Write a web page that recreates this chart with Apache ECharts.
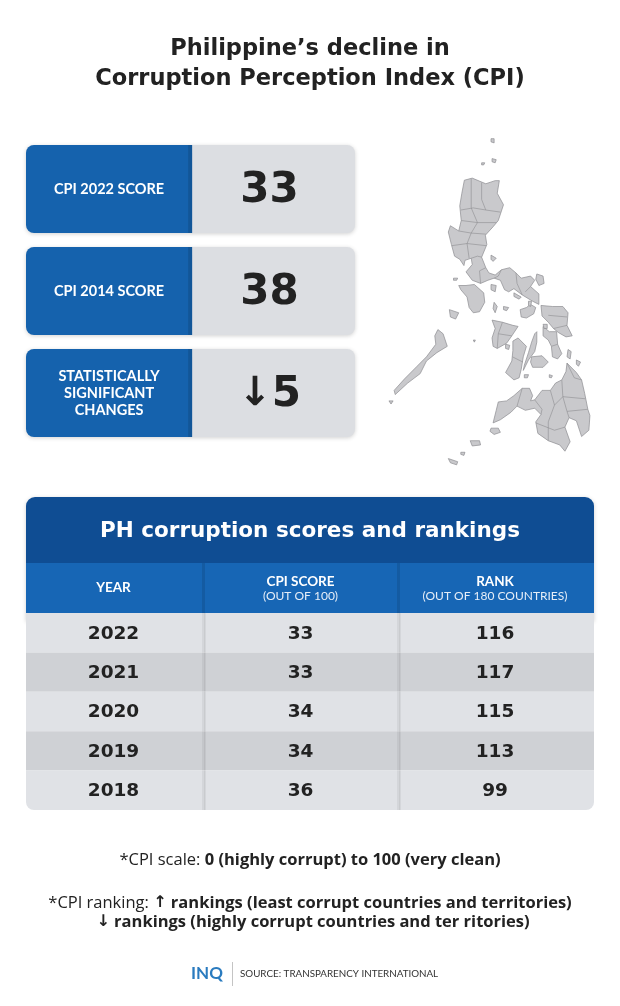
<!DOCTYPE html>
<html><head><meta charset="utf-8">
<script src="https://cdn.jsdelivr.net/npm/echarts@6/dist/echarts.min.js"></script>
<style>html,body{margin:0;padding:0;background:#fff}#c{width:620px;height:1006px}</style>
</head><body><div id="c"></div>
<script>
// ---------- data ----------
const titleLines = ["Philippine’s decline in", "Corruption Perception Index (CPI)"];
const cardLabels = ["CPI 2022 SCORE", "CPI 2014 SCORE", "STATISTICALLY\nSIGNIFICANT\nCHANGES"];
const cardValues = ["33", "38", "5"];
const cardArrows = ["", "", "↓"];
const tableTitle = "PH corruption scores and rankings";
const headerMain = ["YEAR", "CPI SCORE", "RANK"];
const headerSub = ["", "(OUT OF 100)", "(OUT OF 180 COUNTRIES)"];
const years = ["2022", "2021", "2020", "2019", "2018"];
const cpiScores = [33, 33, 34, 34, 36];
const ranks = [116, 117, 115, 113, 99];
const noteScale = ["*CPI scale: ", "0 (highly corrupt) to 100 (very clean)"];
const noteRank1 = ["*CPI ranking: ", "↑", " rankings (least corrupt countries and territories)"];
const noteRank2 = ["↓", " rankings (highly corrupt countries and ter ritories)"];
const logoText = "INQ";
const sourceText = "SOURCE: TRANSPARENCY INTERNATIONAL";

// approximate island outlines [lon, lat]
const islandNames = ["Luzon","Mindoro","Palawan","Calamian","Balabac","Panay","Guimaras","Negros","Cebu","Bohol","Siquijor","Leyte","Samar","Masbate","Ticao","Burias","Catanduanes","Marinduque","Tablas","Sibuyan","Polillo","Lubang","Biliran","Dinagat","Siargao","Camiguin","Mindanao","Basilan","Jolo","Tawi-Tawi","Siasi","Batanes","Babuyan","Calayan","Cuyo"];
const islandCoords = [
 [[120.57,18.52],[120.95,18.62],[121.6,18.35],[122.05,18.5],[122.25,18.5],[122.15,17.9],[122.45,17.35],[122.2,16.6],[121.95,16.3],[121.58,15.9],[121.65,15.45],[121.4,14.85],[121.6,14.35],[121.75,14.1],[122.05,14.0],[122.35,14.25],[122.75,14.35],[123.05,14.1],[123.3,13.85],[123.75,13.95],[123.95,13.75],[123.75,13.45],[124.15,13.1],[124.15,12.6],[123.85,12.75],[123.35,13.05],[122.95,13.35],[122.7,13.2],[122.5,13.3],[122.3,13.75],[122.0,13.85],[121.7,13.75],[121.35,13.6],[120.95,13.75],[120.65,14.15],[120.95,14.5],[120.9,14.8],[120.6,14.7],[120.55,14.45],[120.35,14.75],[120.1,14.9],[119.95,15.45],[119.8,16.05],[119.9,16.35],[120.3,16.1],[120.42,16.6],[120.35,17.3],[120.45,17.9]],
 [[120.3,13.5],[120.65,13.5],[121.05,13.55],[121.5,13.15],[121.55,12.7],[121.3,12.25],[121.0,12.2],[120.8,12.45],[120.7,12.95],[120.4,13.3]],
 [[119.3,11.4],[119.55,11.2],[119.75,10.6],[119.25,10.3],[118.75,9.9],[118.45,9.3],[117.85,8.85],[117.25,8.3],[117.2,8.5],[117.7,9.05],[118.3,9.65],[118.75,10.1],[119.2,10.7],[119.15,11.1]],
 [[119.85,12.35],[120.3,12.2],[120.15,11.9],[119.9,12.0]],
 [[116.95,8.0],[117.15,8.0],[117.05,7.85]],
 [[121.9,11.85],[122.4,11.75],[122.9,11.6],[123.15,11.55],[122.85,11.1],[122.6,10.75],[122.15,10.5],[121.95,10.6],[121.9,11.0],[122.05,11.45]],
 [[122.55,10.7],[122.75,10.65],[122.7,10.45],[122.55,10.5]],
 [[123.15,11.0],[123.55,10.6],[123.4,10.1],[123.3,9.5],[123.2,9.1],[122.95,9.0],[122.55,9.35],[122.85,9.9],[122.9,10.4],[122.9,10.85]],
 [[124.05,11.3],[124.05,10.8],[123.95,10.35],[123.65,9.95],[123.4,9.45],[123.45,9.7],[123.65,10.3],[123.8,10.8],[123.95,11.2]],
 [[123.8,10.1],[124.3,10.15],[124.6,9.85],[124.35,9.6],[123.85,9.6],[123.75,9.85]],
 [[123.45,9.25],[123.65,9.25],[123.6,9.1],[123.45,9.1]],
 [[124.35,11.55],[124.65,11.3],[125.0,11.3],[125.05,10.7],[125.25,10.25],[125.05,10.0],[124.8,10.1],[124.75,10.6],[124.6,10.9],[124.35,11.1]],
 [[124.25,12.55],[124.8,12.5],[125.3,12.5],[125.55,12.2],[125.5,11.6],[125.75,11.1],[125.45,11.05],[125.1,11.25],[124.85,11.45],[124.6,11.75],[124.3,12.05]],
 [[123.25,12.35],[123.55,12.45],[123.75,12.6],[124.0,12.45],[123.9,12.15],[123.55,11.95],[123.3,12.0]],
 [[123.65,12.75],[123.8,12.75],[123.75,12.5],[123.65,12.55]],
 [[122.95,13.15],[123.3,12.95],[123.2,12.85],[122.95,12.98]],
 [[124.05,14.05],[124.35,13.95],[124.4,13.6],[124.15,13.5],[124.0,13.8]],
 [[121.85,13.55],[122.1,13.5],[122.05,13.2],[121.85,13.3]],
 [[122.0,12.7],[122.15,12.5],[122.05,12.2],[121.95,12.4]],
 [[122.45,12.5],[122.7,12.45],[122.6,12.3],[122.45,12.35]],
 [[121.85,14.95],[122.1,14.8],[121.95,14.65],[121.85,14.75]],
 [[120.05,13.85],[120.25,13.85],[120.2,13.75],[120.05,13.75]],
 [[124.35,11.65],[124.55,11.65],[124.55,11.45],[124.4,11.45]],
 [[125.55,10.45],[125.7,10.35],[125.65,10.0],[125.5,10.1]],
 [[125.95,9.95],[126.15,9.85],[126.05,9.65],[125.95,9.75]],
 [[124.65,9.25],[124.8,9.2],[124.75,9.1],[124.65,9.12]],
 [[121.95,6.95],[122.1,7.55],[122.2,7.95],[122.6,8.0],[122.95,8.25],[123.35,8.6],[123.7,8.6],[123.85,8.25],[123.75,8.0],[123.95,8.05],[124.3,8.5],[124.7,8.5],[124.95,8.85],[125.25,9.0],[125.45,9.4],[125.5,9.8],[125.95,9.35],[126.2,9.0],[126.35,8.35],[126.5,7.6],[126.6,7.3],[126.55,6.6],[126.2,6.3],[125.95,7.05],[125.6,7.2],[125.4,6.75],[125.65,6.05],[125.4,5.6],[125.15,5.9],[124.6,6.1],[124.1,6.45],[124.0,7.0],[124.25,7.35],[123.95,7.65],[123.5,7.55],[123.1,7.75],[122.8,7.45],[122.3,7.1]],
 [[121.85,6.7],[122.2,6.7],[122.3,6.5],[122.0,6.4],[121.8,6.55]],
 [[120.85,6.1],[121.3,6.1],[121.35,5.9],[120.95,5.85]],
 [[119.8,5.25],[120.25,5.1],[120.2,4.95],[119.9,5.05]],
 [[120.4,5.55],[120.6,5.55],[120.55,5.4],[120.4,5.45]],
 [[121.85,20.5],[122.0,20.5],[122.0,20.3],[121.85,20.35]],
 [[121.9,19.55],[122.1,19.5],[122.05,19.35],[121.9,19.4]],
 [[121.4,19.35],[121.55,19.35],[121.5,19.25],[121.4,19.25]],
 [[121.0,10.9],[121.1,10.9],[121.05,10.8]]
];
// approximate internal province borders [lon, lat]
const provinceBorders = [
 [[120.4,17.1],[121.0,17.2],[121.6,17.1],[122.3,17.0]],
 [[120.42,16.6],[121.2,16.5],[122.1,16.5]],
 [[120.3,16.1],[120.9,16.0],[121.6,15.95]],
 [[119.97,15.4],[120.7,15.5],[121.62,15.4]],
 [[120.9,18.58],[120.9,17.2],[121.2,16.5],[120.9,16.0],[120.7,15.5],[120.8,14.8]],
 [[121.4,18.4],[121.4,17.6],[121.6,17.1]],
 [[120.9,14.8],[121.2,14.9],[121.4,14.85]],
 [[121.6,14.35],[121.3,14.2],[121.35,13.6]],
 [[122.35,14.25],[122.2,13.95],[122.0,13.85]],
 [[123.05,14.1],[123.1,13.6],[123.35,13.05]],
 [[123.75,13.45],[123.5,13.2]],
 [[123.35,8.6],[123.1,7.75]],
 [[123.95,8.05],[124.3,7.6],[124.25,7.35]],
 [[124.7,8.5],[124.9,7.8],[124.6,7.0],[124.6,6.1]],
 [[125.25,9.0],[125.3,8.2],[125.5,7.5],[125.6,7.2]],
 [[125.5,9.8],[125.85,9.1],[126.2,9.0]],
 [[125.3,8.2],[126.38,8.1]],
 [[125.5,7.5],[126.5,7.6]],
 [[124.9,7.8],[125.3,8.2]],
 [[124.0,6.95],[124.9,6.6],[125.4,6.75]],
 [[122.4,11.75],[122.2,11.2],[122.15,10.5]],
 [[122.2,11.2],[122.85,11.1]],
 [[122.88,10.1],[123.38,9.85]],
 [[124.6,12.08],[125.5,12.0]],
 [[124.85,11.45],[125.5,11.6]],
 [[124.75,10.6],[125.05,10.7]]
];

// ---------- build ----------
const phGeo = {
  type: 'FeatureCollection',
  features: islandNames.map((n, i) => {
    const ring = islandCoords[i].slice();
    ring.push(ring[0]);
    return { type: 'Feature', properties: { name: n }, geometry: { type: 'Polygon', coordinates: [ring] } };
  })
};
echarts.registerMap('ph', phGeo);

const chart = echarts.init(document.getElementById('c'), null, { renderer: 'canvas' });

const BLUE = '#1562ad', GREY = '#dcdee2', DARK = '#222222';
const TITLE_BLUE = '#0f4d93', HEAD_BLUE = '#1766b5';
const HEAVY = 'DejaVu Sans';
const colEdges = [0, 179 / 568, 374 / 568, 1];

function renderCard(params, api) {
  const i = params.dataIndex;
  const cs = params.coordSys;
  const c = api.coord([0, api.value(1)]);
  const band = api.size([0, 1])[1];
  const h = band * 0.863;
  const x0 = cs.x, w = cs.width, top = c[1] - h / 2;
  const split = x0 + w * 0.505;
  return {
    type: 'group',
    children: [
      { type: 'rect', shape: { x: x0, y: top, width: w, height: h, r: 8 },
        style: { fill: GREY, shadowBlur: 4, shadowColor: 'rgba(0,0,0,0.18)', shadowOffsetY: 1 } },
      { type: 'rect', shape: { x: x0, y: top, width: split - x0, height: h, r: [8, 0, 0, 8] },
        style: { fill: BLUE } },
      { type: 'rect', shape: { x: split - 4, y: top, width: 4, height: h },
        style: { fill: 'rgba(0,0,0,0.12)' } },
      { type: 'text', style: { text: cardLabels[i], x: (x0 + split) / 2, y: c[1], align: 'center', verticalAlign: 'middle',
        fill: '#ffffff', fontFamily: 'Lato', fontWeight: 'bold', fontSize: 14.5, lineHeight: 17 } },
      { type: 'text', style: {
        text: (cardArrows[i] ? '{a|' + cardArrows[i] + '}' : '') + '{n|' + cardValues[i] + '}',
        x: (split + x0 + w) / 2 - 4, y: c[1] + 2, align: 'center', verticalAlign: 'middle',
        rich: {
          a: { fontFamily: HEAVY, fontWeight: 'bold', fontSize: 40, fill: DARK, padding: [0, 0, 0, 0] },
          n: { fontFamily: HEAVY, fontWeight: 'bold', fontSize: 42, fill: DARK }
        } } }
    ]
  };
}

function renderRow(params, api) {
  const i = params.dataIndex;
  const cs = params.coordSys;
  const c = api.coord([0, api.value(1)]);
  const h = api.size([0, 1])[1];
  const x0 = cs.x, w = cs.width, top = c[1] - h / 2;
  const last = i === years.length - 1;
  const vals = [years[i], String(cpiScores[i]), String(ranks[i])];
  const children = [
    { type: 'rect', shape: { x: x0, y: top, width: w, height: h, r: last ? [0, 0, 8, 8] : 0 },
      style: { fill: i % 2 === 0 ? '#e0e2e6' : '#cfd1d5' } }
  ];
  [1, 2].forEach(k => {
    const xx = Math.round(x0 + w * colEdges[k]);
    children.push({ type: 'rect', shape: { x: xx - 3, y: top, width: 3, height: h }, style: { fill: 'rgba(0,0,0,0.05)' } });
    children.push({ type: 'line', shape: { x1: xx, y1: top, x2: xx, y2: top + h }, style: { stroke: 'rgba(0,0,0,0.10)', lineWidth: 1 } });
  });
  for (let k = 0; k < 3; k++) {
    children.push({ type: 'text', style: {
      text: vals[k], x: x0 + w * (colEdges[k] + colEdges[k + 1]) / 2 - 2, y: c[1] + 1,
      align: 'center', verticalAlign: 'middle', fill: DARK,
      fontFamily: HEAVY, fontWeight: 'bold', fontSize: 18.5 } });
  }
  return { type: 'group', children };
}

// table header graphics
const TL = 26, TW = 568, TT = 497, TH1 = 66, TH2 = 50;
const graphics = [
  { type: 'text', style: { text: titleLines[0], x: 310, y: 49, align: 'center', verticalAlign: 'middle',
    fill: DARK, fontFamily: HEAVY, fontWeight: 'bold', fontSize: 22.5 } },
  { type: 'text', style: { text: titleLines[1], x: 310, y: 79, align: 'center', verticalAlign: 'middle',
    fill: DARK, fontFamily: HEAVY, fontWeight: 'bold', fontSize: 22.5 } },
  { type: 'rect', shape: { x: TL, y: TT, width: TW, height: TH1 + TH2 + 8, r: [9, 9, 0, 0] },
    style: { fill: TITLE_BLUE, shadowBlur: 4, shadowColor: 'rgba(0,0,0,0.18)', shadowOffsetY: 1 } },
  { type: 'rect', shape: { x: TL, y: TT + TH1, width: TW, height: TH2 }, style: { fill: HEAD_BLUE } },
  { type: 'text', style: { text: tableTitle, x: 310, y: TT + TH1 / 2 + 1, align: 'center', verticalAlign: 'middle',
    fill: '#ffffff', fontFamily: HEAVY, fontWeight: 'bold', fontSize: 21.5 } }
];
[1, 2].forEach(k => {
  const xx = Math.round(TL + TW * colEdges[k]);
  graphics.push({ type: 'rect', shape: { x: xx - 3, y: TT + TH1, width: 3, height: TH2 }, style: { fill: 'rgba(0,0,0,0.10)' } });
});
for (let k = 0; k < 3; k++) {
  const cx = TL + TW * (colEdges[k] + colEdges[k + 1]) / 2 - 2;
  const hasSub = headerSub[k] !== '';
  graphics.push({ type: 'text', style: { text: headerMain[k], x: cx, y: TT + TH1 + (hasSub ? 19 : 25), align: 'center', verticalAlign: 'middle',
    fill: '#ffffff', fontFamily: 'Lato', fontWeight: 'bold', fontSize: 13.5 } });
  if (hasSub) graphics.push({ type: 'text', style: { text: headerSub[k], x: cx, y: TT + TH1 + 33, align: 'center', verticalAlign: 'middle',
    fill: '#e6eef8', fontFamily: 'Lato', fontWeight: 'normal', fontSize: 12 } });
}
// notes
const richNote = {
  r: { fontFamily: 'Open Sans', fontWeight: 'normal', fontSize: 16.5, fill: DARK },
  b: { fontFamily: 'Open Sans', fontWeight: 'bold', fontSize: 16.5, fill: DARK },
  a: { fontFamily: 'DejaVu Sans', fontWeight: 'bold', fontSize: 16, fill: DARK }
};
graphics.push({ type: 'text', style: { text: '{r|' + noteScale[0] + '}{b|' + noteScale[1] + '}', x: 310, y: 860,
  align: 'center', verticalAlign: 'middle', rich: richNote } });
graphics.push({ type: 'text', style: { text: '{r|' + noteRank1[0] + '}{a|' + noteRank1[1] + '}{b|' + noteRank1[2] + '}', x: 310, y: 903,
  align: 'center', verticalAlign: 'middle', rich: richNote } });
graphics.push({ type: 'text', style: { text: '{a|' + noteRank2[0] + '}{b|' + noteRank2[1] + '}', x: 313, y: 922,
  align: 'center', verticalAlign: 'middle', rich: richNote } });
// footer
graphics.push({ type: 'text', style: { text: logoText, x: 207, y: 974, align: 'center', verticalAlign: 'middle',
  fill: '#2a7bbf', fontFamily: 'Lato', fontWeight: 'bold', fontSize: 17 } });
graphics.push({ type: 'line', shape: { x1: 232.5, y1: 962, x2: 232.5, y2: 986 }, style: { stroke: '#c4c4c4', lineWidth: 1 } });
graphics.push({ type: 'text', style: { text: sourceText, x: 240, y: 974, align: 'left', verticalAlign: 'middle',
  fill: '#333333', fontFamily: 'Lato', fontWeight: 'normal', fontSize: 9.8 } });

const option = {
  backgroundColor: '#ffffff',
  animation: false,
  grid: [
    { left: 26, top: 138, width: 329, height: 306 },
    { left: TL, top: 613, width: TW, height: 197 }
  ],
  xAxis: [
    { gridIndex: 0, type: 'value', min: 0, max: 1, show: false },
    { gridIndex: 1, type: 'value', min: 0, max: 1, show: false }
  ],
  yAxis: [
    { gridIndex: 0, type: 'category', data: cardLabels, inverse: true, show: false },
    { gridIndex: 1, type: 'category', data: years, inverse: true, show: false }
  ],
  geo: {
    map: 'ph', roam: false, silent: true, aspectScale: 0.97,
    boundingCoords: [[117.0, 21.2], [126.7, 4.8]],
    left: 390, top: 124, width: 202, height: 344,
    label: { show: false },
    itemStyle: { areaColor: '#c9c9cc', borderColor: '#8d8d90', borderWidth: 0.7 },
    emphasis: { disabled: true }
  },
  graphic: { elements: graphics },
  series: [
    { type: 'custom', xAxisIndex: 0, yAxisIndex: 0, renderItem: renderCard,
      data: cardLabels.map((l, i) => [0, i]), silent: true, z: 2 },
    { type: 'custom', xAxisIndex: 1, yAxisIndex: 1, renderItem: renderRow,
      data: years.map((y, i) => [0, i]), silent: true, z: 3 },
    { type: 'lines', coordinateSystem: 'geo', polyline: true, silent: true,
      data: provinceBorders.map(p => ({ coords: p })),
      lineStyle: { color: '#8d8d90', width: 0.6, opacity: 1 }, z: 3 }
  ]
};
chart.setOption(option);
</script>
</body></html>
